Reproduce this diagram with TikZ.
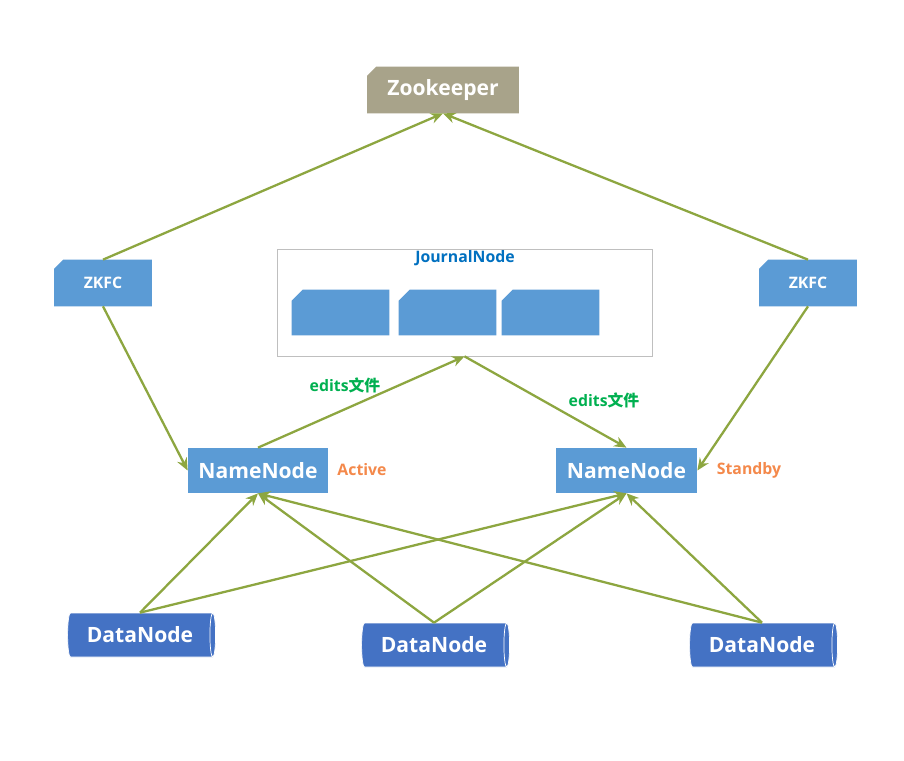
\documentclass[tikz,border=0pt]{standalone}
\usepackage{fontspec}
\setmainfont{Open Sans}
\newfontfamily\cjk{Noto Sans CJK SC}
\usetikzlibrary{shapes.geometric,arrows.meta}
\definecolor{lineGreen}{HTML}{8DA640}
\definecolor{boxBlue}{HTML}{5B9BD5}
\definecolor{dnBlue}{HTML}{4472C4}
\definecolor{zkGray}{HTML}{A8A38A}
\definecolor{stateOrange}{HTML}{F4894B}
\definecolor{editGreen}{HTML}{00B050}
\definecolor{jnBlue}{HTML}{0070C0}
\tikzset{
  link/.style={draw=lineGreen,line width=1.3pt,-{Stealth[length=7pt,width=6pt]}},
  plain/.style={inner sep=0pt,minimum width=#1*0.02cm,minimum height=46*0.02cm,text=white,font=\bfseries},
  datanode/.style={cylinder,shape border rotate=0,aspect=0.35,minimum width=44*0.02cm,minimum height=148*0.02cm,
    draw=white,cylinder uses custom fill,cylinder body fill=dnBlue,cylinder end fill=dnBlue,
    text=white,font=\bfseries\large,inner sep=0pt},
}
% snipped box: fill, cut top-left corner
\newcommand{\snipbox}[3]{\fill[#2] ([xshift=#3*0.02cm]#1.north west) -- (#1.north east) -- (#1.south east)
  -- (#1.south west) -- ([yshift=-#3*0.02cm]#1.north west) -- cycle;}
\begin{document}
\begin{tikzpicture}[x=0.02cm,y=-0.02cm]
\useasboundingbox (0,0) rectangle (904,761);
\fill[white] (0,0) rectangle (904,761);

% boxes
\node[plain=151] (zk) at (443,90) {};
\snipbox{zk}{zkGray}{9}
\node[text=white,font=\bfseries\large] at (zk) {Zookeeper};
\node[plain=97] (zkfcL) at (103,283) {};
\snipbox{zkfcL}{boxBlue}{9}
\node[text=white,font=\bfseries\small] at (zkfcL) {ZKFC};
\node[plain=97] (zkfcR) at (808,283) {};
\snipbox{zkfcR}{boxBlue}{9}
\node[text=white,font=\bfseries\small] at (zkfcR) {ZKFC};

% journal
\node[draw=gray!50,minimum width=375*0.02cm,minimum height=107*0.02cm,inner sep=0pt] (jn) at (464.5,302.5) {};
\node[text=jnBlue,font=\bfseries\small] at (465,258) {JournalNode};
\foreach \jx/\jn in {340.5/jA,447.5/jB,550.5/jC}{
  \node[plain=97,minimum height=45*0.02cm] (\jn) at (\jx,312.5) {};
  \snipbox{\jn}{boxBlue}{11}
}

% namenodes
\node[plain=140,minimum height=45*0.02cm,fill=boxBlue,font=\bfseries\large] (nnA) at (258,470.5) {NameNode};
\node[plain=141,minimum height=45*0.02cm,fill=boxBlue,font=\bfseries\large] (nnS) at (626.5,470.5) {NameNode};
\node[text=stateOrange,font=\bfseries\small] at (362,470) {Active};
\node[text=stateOrange,font=\bfseries\small] at (749,470) {Standby};

% datanodes
\node[datanode] (dn1) at (140,635) {DataNode\hspace{6pt}};
\node[datanode] (dn2) at (434,645) {DataNode\hspace{6pt}};
\node[datanode] (dn3) at (762,645) {DataNode\hspace{6pt}};

% connectors
\draw[link] (zkfcL.north) -- (zk.south);
\draw[link] (zkfcR.north) -- (zk.south);
\draw[link] (zkfcL.south) -- (nnA.west);
\draw[link] (zkfcR.south) -- (nnS.east);
\draw[link] (nnA.north) -- (jn.south);
\draw[link] (jn.south) -- (nnS.north);
\node[text=editGreen,font=\bfseries\small] at (345,385) {edits{\cjk 文件}};
\node[text=editGreen,font=\bfseries\small] at (604,400) {edits{\cjk 文件}};
\foreach \d in {dn1,dn2,dn3}{
  \draw[link] (\d.north) -- (nnA.south);
  \draw[link] (\d.north) -- (nnS.south);
}
\end{tikzpicture}
\end{document}
